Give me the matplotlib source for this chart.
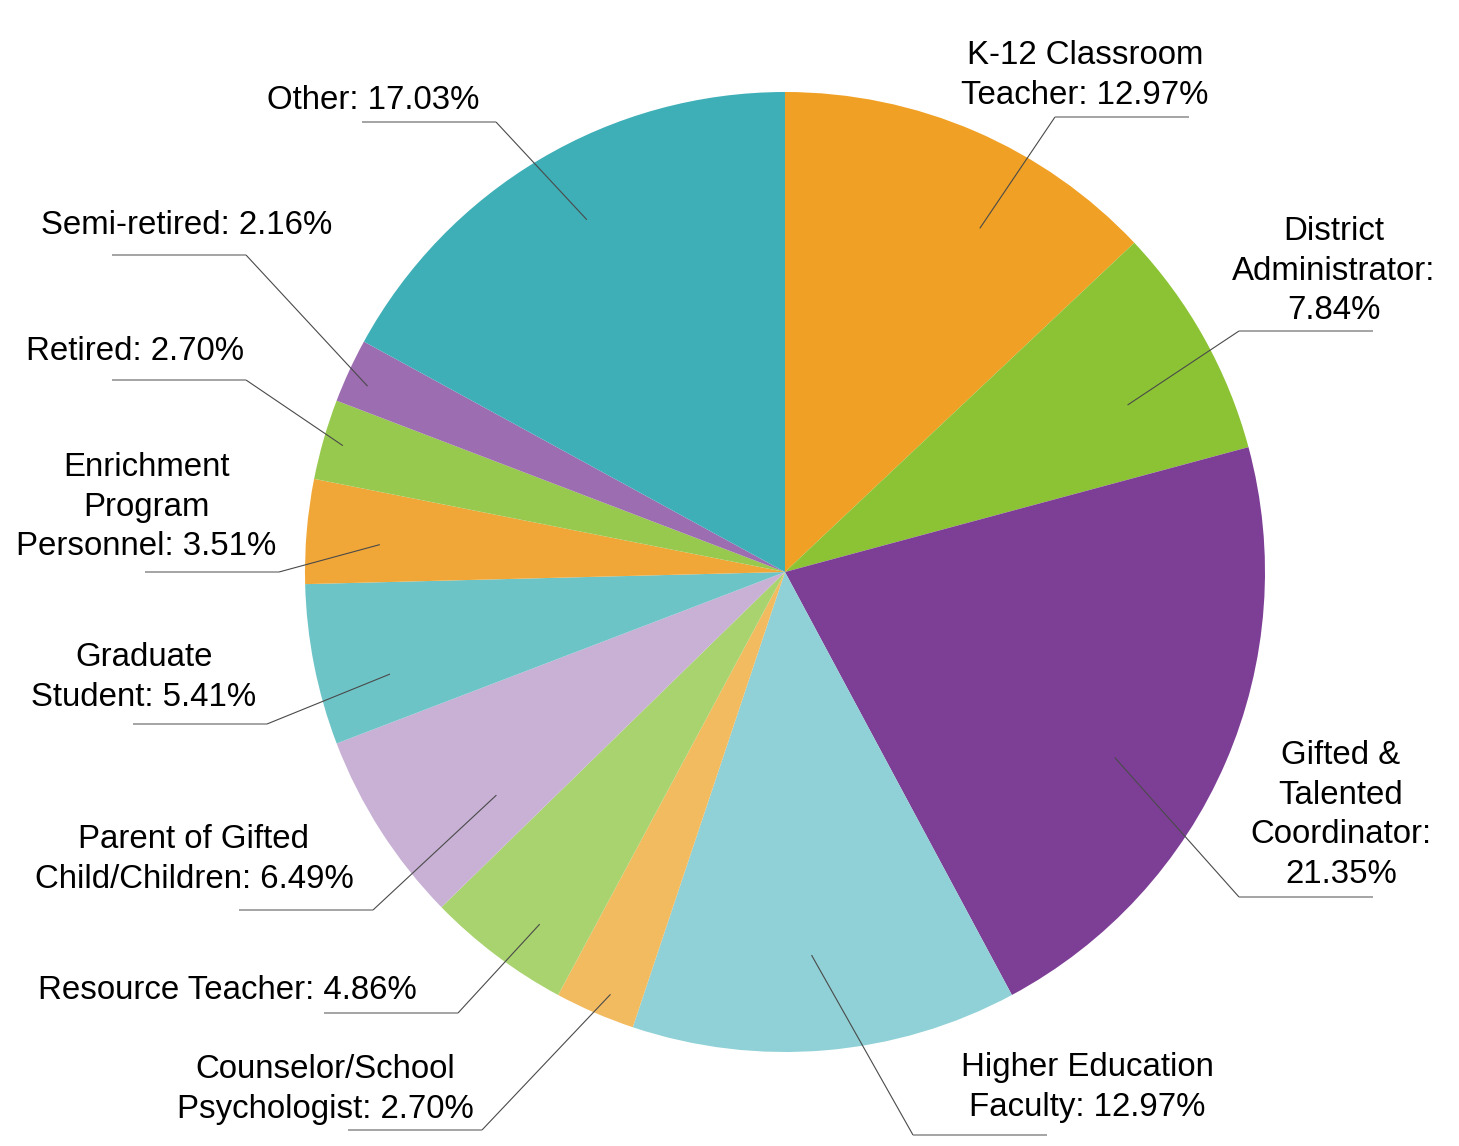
import numpy as np
import matplotlib
matplotlib.use("Agg")
import matplotlib.pyplot as plt

# ---- data ----
categories = [
    "K-12 Classroom\nTeacher", "District\nAdministrator:\n", "Gifted &\nTalented\nCoordinator:\n",
    "Higher Education\nFaculty", "Counselor/School\nPsychologist", "Resource Teacher",
    "Parent of Gifted\nChild/Children", "Graduate\nStudent", "Enrichment\nProgram\nPersonnel",
    "Retired", "Semi-retired", "Other",
]
values = [12.97, 7.84, 21.35, 12.97, 2.70, 4.86, 6.49, 5.41, 3.51, 2.70, 2.16, 17.03]
colors = ["#F0A024", "#8BC334", "#7D3F96", "#8FD1D6", "#F3BB60", "#A9D36E",
          "#C8B1D5", "#6DC4C7", "#F1A737", "#98C94F", "#9C6DB0", "#3EAFB7"]

# ---- layout (pixel coordinates from top-left) ----
W, H = 1459, 1146
CX, CY, R = 785, 572, 480
text_pos = [(1085, 52), (1334, 228), (1341, 752), (1087, 1064), (325, 1066), (227, 987),
            (194, 836), (144, 654), (146, 464), (135, 348), (187, 222), (373, 97)]
elbows = [(1055, 117, 1), (1239, 331, 1), (1239, 897, 1), (913, 1135, 1), (482, 1130, -1),
          (458, 1013, -1), (373, 910, -1), (267, 724, -1), (279, 572, -1), (246, 380, -1),
          (246, 255, -1), (496, 122, -1)]
anchor_dang = [6.2, 3.2, 6.0, 0.9, -0.9, -2.1, -5.1, -3.3, -1.0, -0.1, -0.8, 1.3]
anchor_rfrac = [0.823, 0.794, 0.788, 0.80, 0.952, 0.894, 0.760, 0.850, 0.846, 0.958, 0.952, 0.842]
HLEN = 134
PITCH = 39.7
FS = 23.8

fig = plt.figure(figsize=(W / 100, H / 100), dpi=100)
ax = fig.add_axes([0, 0, 1, 1])

def fy(y):
    return H - y

ax.pie(values, colors=colors, startangle=90, counterclock=False,
       center=(CX, fy(CY)), radius=R, wedgeprops=dict(linewidth=0),
       normalize=True, frame=True)
ax.set_xlim(0, W)
ax.set_ylim(0, H)
ax.set_aspect("equal")
ax.axis("off")

total = sum(values)
cum = np.cumsum([0] + values[:-1])
for i, (cat, v) in enumerate(zip(categories, values)):
    mid = (cum[i] + v / 2) / total * 360 + anchor_dang[i]   # clockwise from top
    th = np.deg2rad(mid)
    ax_x = CX + R * anchor_rfrac[i] * np.sin(th)
    ax_y = CY - R * anchor_rfrac[i] * np.cos(th)
    ex, ey, side = elbows[i]
    ax.plot([ax_x, ex], [fy(ax_y), fy(ey)], color="#4a4a4a", lw=0.8, solid_capstyle="butt")
    ax.plot([ex, ex + side * HLEN], [fy(ey), fy(ey)], color="#8c8c8c", lw=1.1,
            solid_capstyle="butt")
    pct = f"{v:.2f}%"
    label = cat + pct if cat.endswith("\n") else cat + ": " + pct
    tx, ty = text_pos[i]
    for j, line in enumerate(label.split("\n")):
        ax.text(tx, fy(ty + j * PITCH), line, ha="center", va="center_baseline",
                fontsize=FS, family=["Liberation Sans", "DejaVu Sans"], color="black")

fig.savefig("out.png", dpi=100)
